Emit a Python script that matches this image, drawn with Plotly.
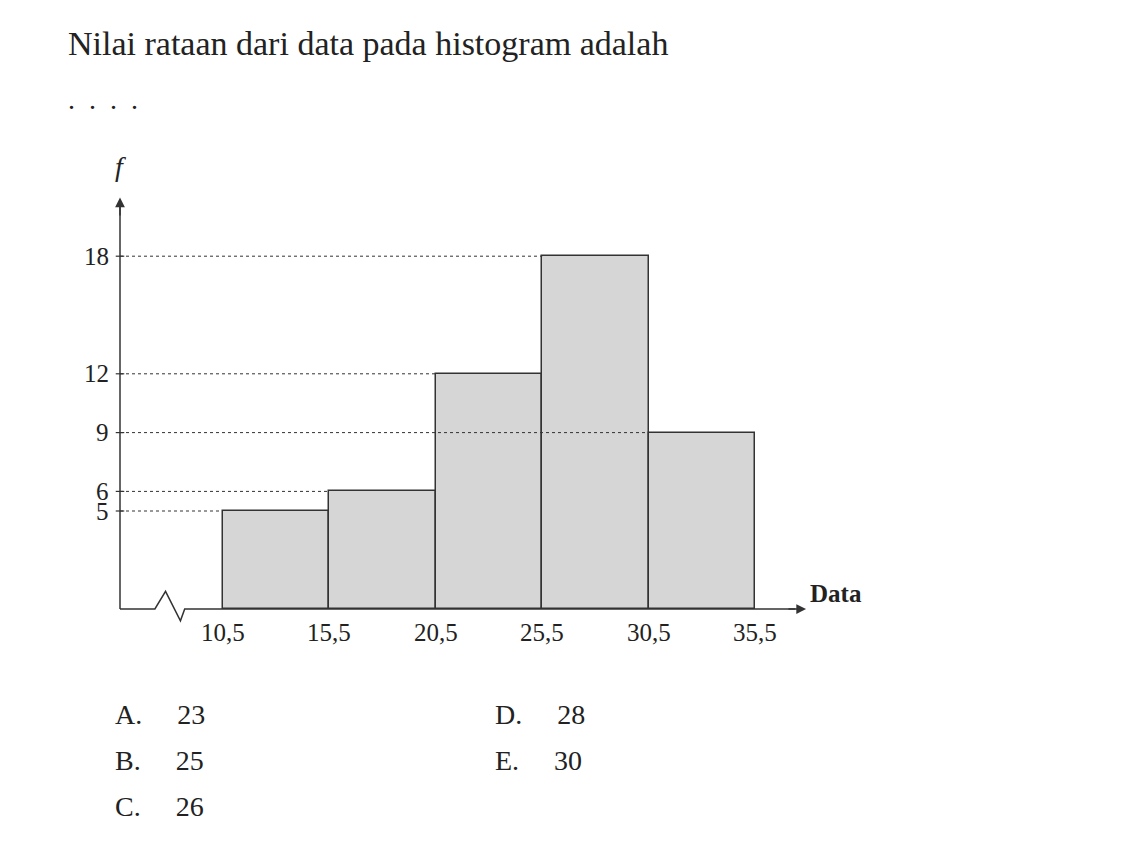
import plotly.graph_objects as go

edges = [10.5, 15.5, 20.5, 25.5, 30.5, 35.5]
freqs = [5, 6, 12, 18, 9]
ytick_vals = [18, 12, 9, 6, 5]
xtick_labels = ["10,5", "15,5", "20,5", "25,5", "30,5", "35,5"]
options_left = ["A.\u2003 23", "B.\u2003 25", "C.\u2003 26"]
options_right = ["D.\u2003 28", "E.\u2003 30"]

FONT = "Liberation Serif, Times New Roman, serif"
X0 = 5.66
SX, SY = 21.28, 19.6          # px per unit
AXIS_PX, BASE_PX = 112, 601   # target pixel of y axis / baseline (corrected for offset)
centers = [(edges[i] + edges[i + 1]) / 2 for i in range(len(freqs))]

W, H, L, R, T, B = 1134, 850, 10, 10, 10, 10
pw, ph = W - L - R, H - T - B
xmin = X0 - (AXIS_PX - L) / SX
xmax = xmin + pw / SX
ymin = -((H - B) - BASE_PX) / SY
ymax = ymin + ph / SY

fig = go.Figure()
fig.add_trace(go.Bar(x=centers, y=freqs, width=5, marker=dict(color="#d6d6d6",
                     line=dict(color="#333", width=1.5)), hoverinfo="skip"))

shapes = []
for v in ytick_vals:
    idx = freqs.index(v)
    shapes.append(dict(type="line", x0=X0, x1=edges[idx], y0=v, y1=v, layer="above",
                       line=dict(color="#333", width=1, dash="dot")))
    shapes.append(dict(type="line", x0=X0 - 0.2, x1=X0 + 0.2, y0=v, y1=v,
                       line=dict(color="#333", width=1.2)))
shapes.append(dict(type="line", x0=X0, x1=X0, y0=0, y1=20.6, line=dict(color="#333", width=1.5)))
shapes.append(dict(type="path", path=f"M {X0},0 L 7.3,0 L 7.8,0.9 L 8.5,-0.6 L 8.7,0 L 37.4,0",
                   line=dict(color="#333", width=1.5)))
fig.update_layout(shapes=shapes)

ann = []
ann.append(dict(x=37.9, y=0, ax=37.0, ay=0, axref="x", ayref="y", showarrow=True, text="",
                arrowhead=2, arrowsize=1.3, arrowwidth=1.5, arrowcolor="#333"))
ann.append(dict(x=X0, y=21.0, ax=X0, ay=20.0, axref="x", ayref="y", showarrow=True, text="",
                arrowhead=2, arrowsize=1.3, arrowwidth=1.5, arrowcolor="#333"))
for v in ytick_vals:
    ann.append(dict(x=X0 - 0.4, y=v, text=str(v), showarrow=False, xanchor="right",
                    font=dict(size=25, family=FONT, color="#222")))
for e, t in zip(edges, xtick_labels):
    ann.append(dict(x=e, y=-0.4, text=t, showarrow=False, yanchor="top",
                    font=dict(size=25, family=FONT, color="#222")))
ann.append(dict(x=38.0, y=0, text="<b>Data</b>", showarrow=False, xanchor="left", yanchor="bottom",
                font=dict(size=25, family=FONT, color="#222")))
ann.append(dict(x=X0, y=22.6, text="<i>f</i>", showarrow=False,
                font=dict(size=28, family=FONT, color="#222")))
fig.update_layout(annotations=ann)

def px(xp): return (xp - L) / pw
def py(yp): return (H - B - yp) / ph

def paper_text(x, y, t, size=26):
    fig.add_annotation(xref="paper", yref="paper", x=px(x - 10), y=py(y - 7), text=t, showarrow=False,
                       xanchor="left", yanchor="middle", font=dict(size=size, family=FONT, color="#222"))

paper_text(68, 42, "Nilai rataan dari data pada histogram adalah", 34)
paper_text(68, 98, ".\u2002.\u2002.\u2002.", 28)
for i, t in enumerate(options_left):
    paper_text(115, 713 + 46 * i, t, 28)
for i, t in enumerate(options_right):
    paper_text(495, 713 + 46 * i, t, 28)

fig.update_layout(width=W, height=H, margin=dict(l=L, r=R, t=T, b=B), showlegend=False,
                  plot_bgcolor="white", paper_bgcolor="white", bargap=0,
                  xaxis=dict(range=[xmin, xmax], visible=False, fixedrange=True),
                  yaxis=dict(range=[ymin, ymax], visible=False, fixedrange=True))
fig.write_html("out.html")
